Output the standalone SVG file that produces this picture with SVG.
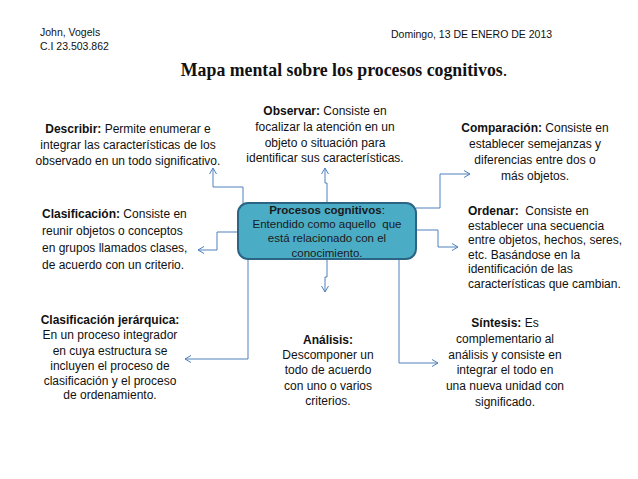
<svg xmlns="http://www.w3.org/2000/svg" width="638" height="479" viewBox="0 0 638 479">
<style>
  text { font-family: "Liberation Sans", Arial, sans-serif; fill: #111; }
  .hdr { font-size: 10.5px; }
  .t { font-size: 12px; }
  .c { text-anchor: middle; }
  .b { font-weight: bold; }
  .title { font-family: "Liberation Serif", "Times New Roman", serif; font-size: 17.8px; font-weight: bold; text-anchor: middle; }
  .box { fill: #4BACC6; stroke: #2B6583; stroke-width: 2; }
  .bt { font-size: 11.5px; text-anchor: middle; fill: #1a1a1a; }
  .conn path { fill: none; stroke: #4F81BD; stroke-width: 1; marker-end: url(#arr); }
</style>
<defs>
  <marker id="arr" markerUnits="userSpaceOnUse" markerWidth="10" markerHeight="10" refX="8" refY="5" orient="auto">
    <path d="M2,1.5 L8,5 L2,8.5" fill="none" stroke="#4F81BD" stroke-width="1"/>
  </marker>
</defs>
<rect width="638" height="479" fill="#ffffff"/>

<g id="header">
  <text class="hdr" x="40" y="36">John, Vogels</text>
  <text class="hdr" x="40" y="50">C.I 23.503.862</text>
  <text class="hdr" x="391" y="38">Domingo, 13 DE ENERO DE 2013</text>
  <text class="title" x="344" y="76">Mapa mental sobre los procesos cognitivos<tspan font-weight="normal">.</tspan></text>
</g>

<g class="conn" id="connectors">
  <path d="M243,203 V187 H213 V168"/>
  <path d="M327,203 V183 H325 V168"/>
  <path d="M416,208 H440 V174 H470"/>
  <path d="M238,232 H217 V250 H198"/>
  <path d="M416,230 H438 V247 H458"/>
  <path d="M248,260 V359 H185"/>
  <path d="M327,260 V277 H325 V292"/>
  <path d="M399,260 V363 H438"/>
</g>

<g id="center">
  <rect class="box" x="238" y="203" width="178" height="56" rx="10"/>
  <text class="bt" x="327" y="214"><tspan font-weight="bold">Procesos cognitivos</tspan>:</text>
  <text class="bt" x="327" y="228" xml:space="preserve">Entendido como aquello  que</text>
  <text class="bt" x="327" y="242">está relacionado con el</text>
  <text class="bt" x="327" y="257">conocimiento.</text>
</g>

<g id="describir">
  <text class="t c" x="128" y="133"><tspan class="b">Describir:</tspan> Permite enumerar e</text>
  <text class="t c" x="128" y="149">integrar las características de los</text>
  <text class="t c" x="128" y="165">observado en un todo significativo.</text>
</g>

<g id="observar">
  <text class="t c" x="325" y="115"><tspan class="b">Observar:</tspan> Consiste en</text>
  <text class="t c" x="325" y="131">focalizar la atención en un</text>
  <text class="t c" x="325" y="147">objeto o situación para</text>
  <text class="t c" x="325" y="162">identificar sus características.</text>
</g>

<g id="comparacion">
  <text class="t c" x="535" y="132"><tspan class="b">Comparación:</tspan> Consiste en</text>
  <text class="t c" x="535" y="148">establecer semejanzas y</text>
  <text class="t c" x="535" y="164">diferencias entre dos o</text>
  <text class="t c" x="535" y="180">más objetos.</text>
</g>

<g id="clasificacion">
  <text class="t" x="42" y="218"><tspan class="b">Clasificación:</tspan> Consiste en</text>
  <text class="t" x="42" y="235">reunir objetos o conceptos</text>
  <text class="t" x="42" y="252">en grupos llamados clases,</text>
  <text class="t" x="42" y="269">de acuerdo con un criterio.</text>
</g>

<g id="ordenar">
  <text class="t" x="468" y="215" xml:space="preserve"><tspan class="b">Ordenar:</tspan>  Consiste en</text>
  <text class="t" x="468" y="230">establecer una secuencia</text>
  <text class="t" x="468" y="244">entre objetos, hechos, seres,</text>
  <text class="t" x="468" y="259">etc. Basándose en la</text>
  <text class="t" x="468" y="273">identificación de las</text>
  <text class="t" x="468" y="288">características que cambian.</text>
</g>

<g id="jerarquica">
  <text class="t c b" x="110" y="324">Clasificación jerárquica:</text>
  <text class="t c" x="110" y="339">En un proceso integrador</text>
  <text class="t c" x="110" y="355">en cuya estructura se</text>
  <text class="t c" x="110" y="370">incluyen el proceso de</text>
  <text class="t c" x="110" y="385">clasificación y el proceso</text>
  <text class="t c" x="110" y="399">de ordenamiento.</text>
</g>

<g id="analisis">
  <text class="t c b" x="328" y="344">Análisis:</text>
  <text class="t c" x="328" y="359">Descomponer un</text>
  <text class="t c" x="328" y="374">todo de acuerdo</text>
  <text class="t c" x="328" y="390">con uno o varios</text>
  <text class="t c" x="328" y="405">criterios.</text>
</g>

<g id="sintesis">
  <text class="t c" x="505" y="327"><tspan class="b">Síntesis:</tspan> Es</text>
  <text class="t c" x="505" y="343">complementario al</text>
  <text class="t c" x="505" y="359">análisis y consiste en</text>
  <text class="t c" x="505" y="374">integrar el todo en</text>
  <text class="t c" x="505" y="390">una nueva unidad con</text>
  <text class="t c" x="505" y="406">significado.</text>
</g>
</svg>
